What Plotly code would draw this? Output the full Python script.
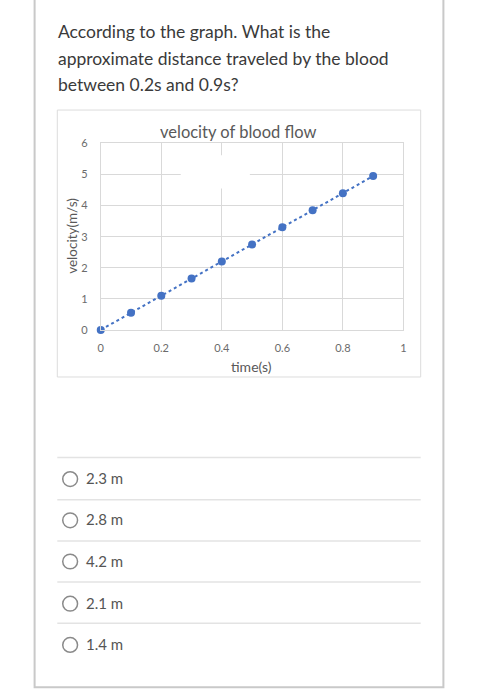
import plotly.graph_objects as go

W, H = 478, 700

# ---- data ----
time_s = [0, 0.1, 0.2, 0.3, 0.4, 0.5, 0.6, 0.7, 0.8, 0.9]
velocity = [0, 0.55, 1.1, 1.65, 2.2, 2.75, 3.3, 3.85, 4.4, 4.95]
x_ticks = [0, 0.2, 0.4, 0.6, 0.8, 1]
x_tick_labels = ["0", "0.2", "0.4", "0.6", "0.8", "1"]
y_ticks = [0, 1, 2, 3, 4, 5, 6]
y_tick_labels = ["0", "1", "2", "3", "4", "5", "6"]
chart_title = "velocity of blood flow"
x_title = "time(s)"
y_title = "velocity(m/s)"
question_lines = [
    "According to the graph. What is the",
    "approximate distance traveled by the blood",
    "between 0.2s and 0.9s?",
]
answer_options = ["2.3 m", "2.8 m", "4.2 m", "2.1 m", "1.4 m"]


def px(x):
    return x / W


def py(y):
    return 1 - y / H


FONT = "Lato, 'Open Sans', sans-serif"
CHART_FONT = "Lato, 'Open Sans', sans-serif"
TICK_COL = "#6b6b6b"
GRID_COL = "#d9d9d9"
BLUE = "#4472C4"

# plot area pixel bounds
PL, PR, PT, PB = 99, 405.5, 139, 329

fig = go.Figure()
fig.add_trace(go.Scatter(
    x=time_s, y=velocity, mode="lines+markers",
    line=dict(color=BLUE, width=2, dash="dot"),
    marker=dict(color=BLUE, size=8),
    cliponaxis=False,
    showlegend=False, hoverinfo="skip",
))

shapes = []
# outer card border
shapes.append(dict(type="rect", xref="paper", yref="paper",
                   x0=px(32), x1=px(446), y0=py(693), y1=py(-10),
                   line=dict(color="#c9c9c9", width=2), fillcolor="rgba(0,0,0,0)", layer="below"))
# chart image box
shapes.append(dict(type="rect", xref="paper", yref="paper",
                   x0=px(55), x1=px(423), y0=py(377), y1=py(105),
                   line=dict(color="#dcdcdc", width=1), fillcolor="white", layer="below"))
# white artifact over gridlines near the title
shapes.append(dict(type="rect", xref="paper", yref="paper",
                   x0=px(180), x1=px(250), y0=py(185), y1=py(151),
                   line=dict(width=0), fillcolor="white", layer="above"))
# separators for answer options
sep_y = [459, 502, 544, 586, 628]
for sy in sep_y:
    shapes.append(dict(type="line", xref="paper", yref="paper",
                       x0=px(55), x1=px(423), y0=py(sy), y1=py(sy),
                       line=dict(color="#e3e3e3", width=1.5)))

annotations = []
q_y = [25, 52, 79]
for line, yy in zip(question_lines, q_y):
    annotations.append(dict(text=line, xref="paper", yref="paper", x=px(54), y=py(yy),
                            xanchor="left", yanchor="middle", showarrow=False,
                            font=dict(family=FONT, size=17.5, color="#3a3a3a")))

opt_y = [481, 523, 565, 608, 650]
for opt, yy in zip(answer_options, opt_y):
    r = 7.5
    shapes.append(dict(type="circle", xref="paper", yref="paper",
                       x0=px(68 - r), x1=px(68 + r), y0=py(yy + r), y1=py(yy - r),
                       line=dict(color="#8a8a8a", width=1.5)))
    annotations.append(dict(text=opt, xref="paper", yref="paper", x=px(82), y=py(yy - 1),
                            xanchor="left", yanchor="middle", showarrow=False,
                            font=dict(family=FONT, size=15, color="#555555")))

# chart title and axis titles
annotations.append(dict(text=chart_title, xref="paper", yref="paper", x=px(238), y=py(127),
                        xanchor="center", yanchor="middle", showarrow=False,
                        font=dict(family=CHART_FONT, size=16.5, color="#595959")))
annotations.append(dict(text=x_title, xref="paper", yref="paper", x=px(252), y=py(366),
                        xanchor="center", yanchor="middle", showarrow=False,
                        font=dict(family=CHART_FONT, size=14, color="#595959")))
annotations.append(dict(text=y_title, xref="paper", yref="paper", x=px(70), y=py(233),
                        xanchor="center", yanchor="middle", showarrow=False, textangle=-90,
                        font=dict(family=CHART_FONT, size=13.5, color="#595959")))

fig.update_layout(
    width=W, height=H,
    margin=dict(l=0, r=0, t=0, b=0),
    paper_bgcolor="white", plot_bgcolor="rgba(0,0,0,0)",
    shapes=shapes, annotations=annotations,
    xaxis=dict(domain=[px(PL), px(PR)], range=[0, 1], tickvals=x_ticks, ticktext=x_tick_labels,
               showgrid=True, gridcolor=GRID_COL, gridwidth=1, zeroline=False,
               showline=True, linecolor=GRID_COL, linewidth=1, mirror=True,
               ticks="", ticklabelstandoff=8,
               tickfont=dict(family=CHART_FONT, size=11, color=TICK_COL), fixedrange=True),
    yaxis=dict(domain=[py(PB), py(PT)], range=[0, 6], tickvals=y_ticks, ticktext=y_tick_labels,
               showgrid=True, gridcolor=GRID_COL, gridwidth=1, zeroline=False,
               showline=True, linecolor=GRID_COL, linewidth=1, mirror=True,
               ticks="", ticklabelstandoff=10,
               tickfont=dict(family=CHART_FONT, size=11, color=TICK_COL), fixedrange=True),
)

fig.write_html(
    "out.html",
    config={"displayModeBar": False, "staticPlot": True},
    post_script="document.body.style.margin='0';document.body.style.padding='0';"
                "document.body.style.overflow='hidden';",
)
